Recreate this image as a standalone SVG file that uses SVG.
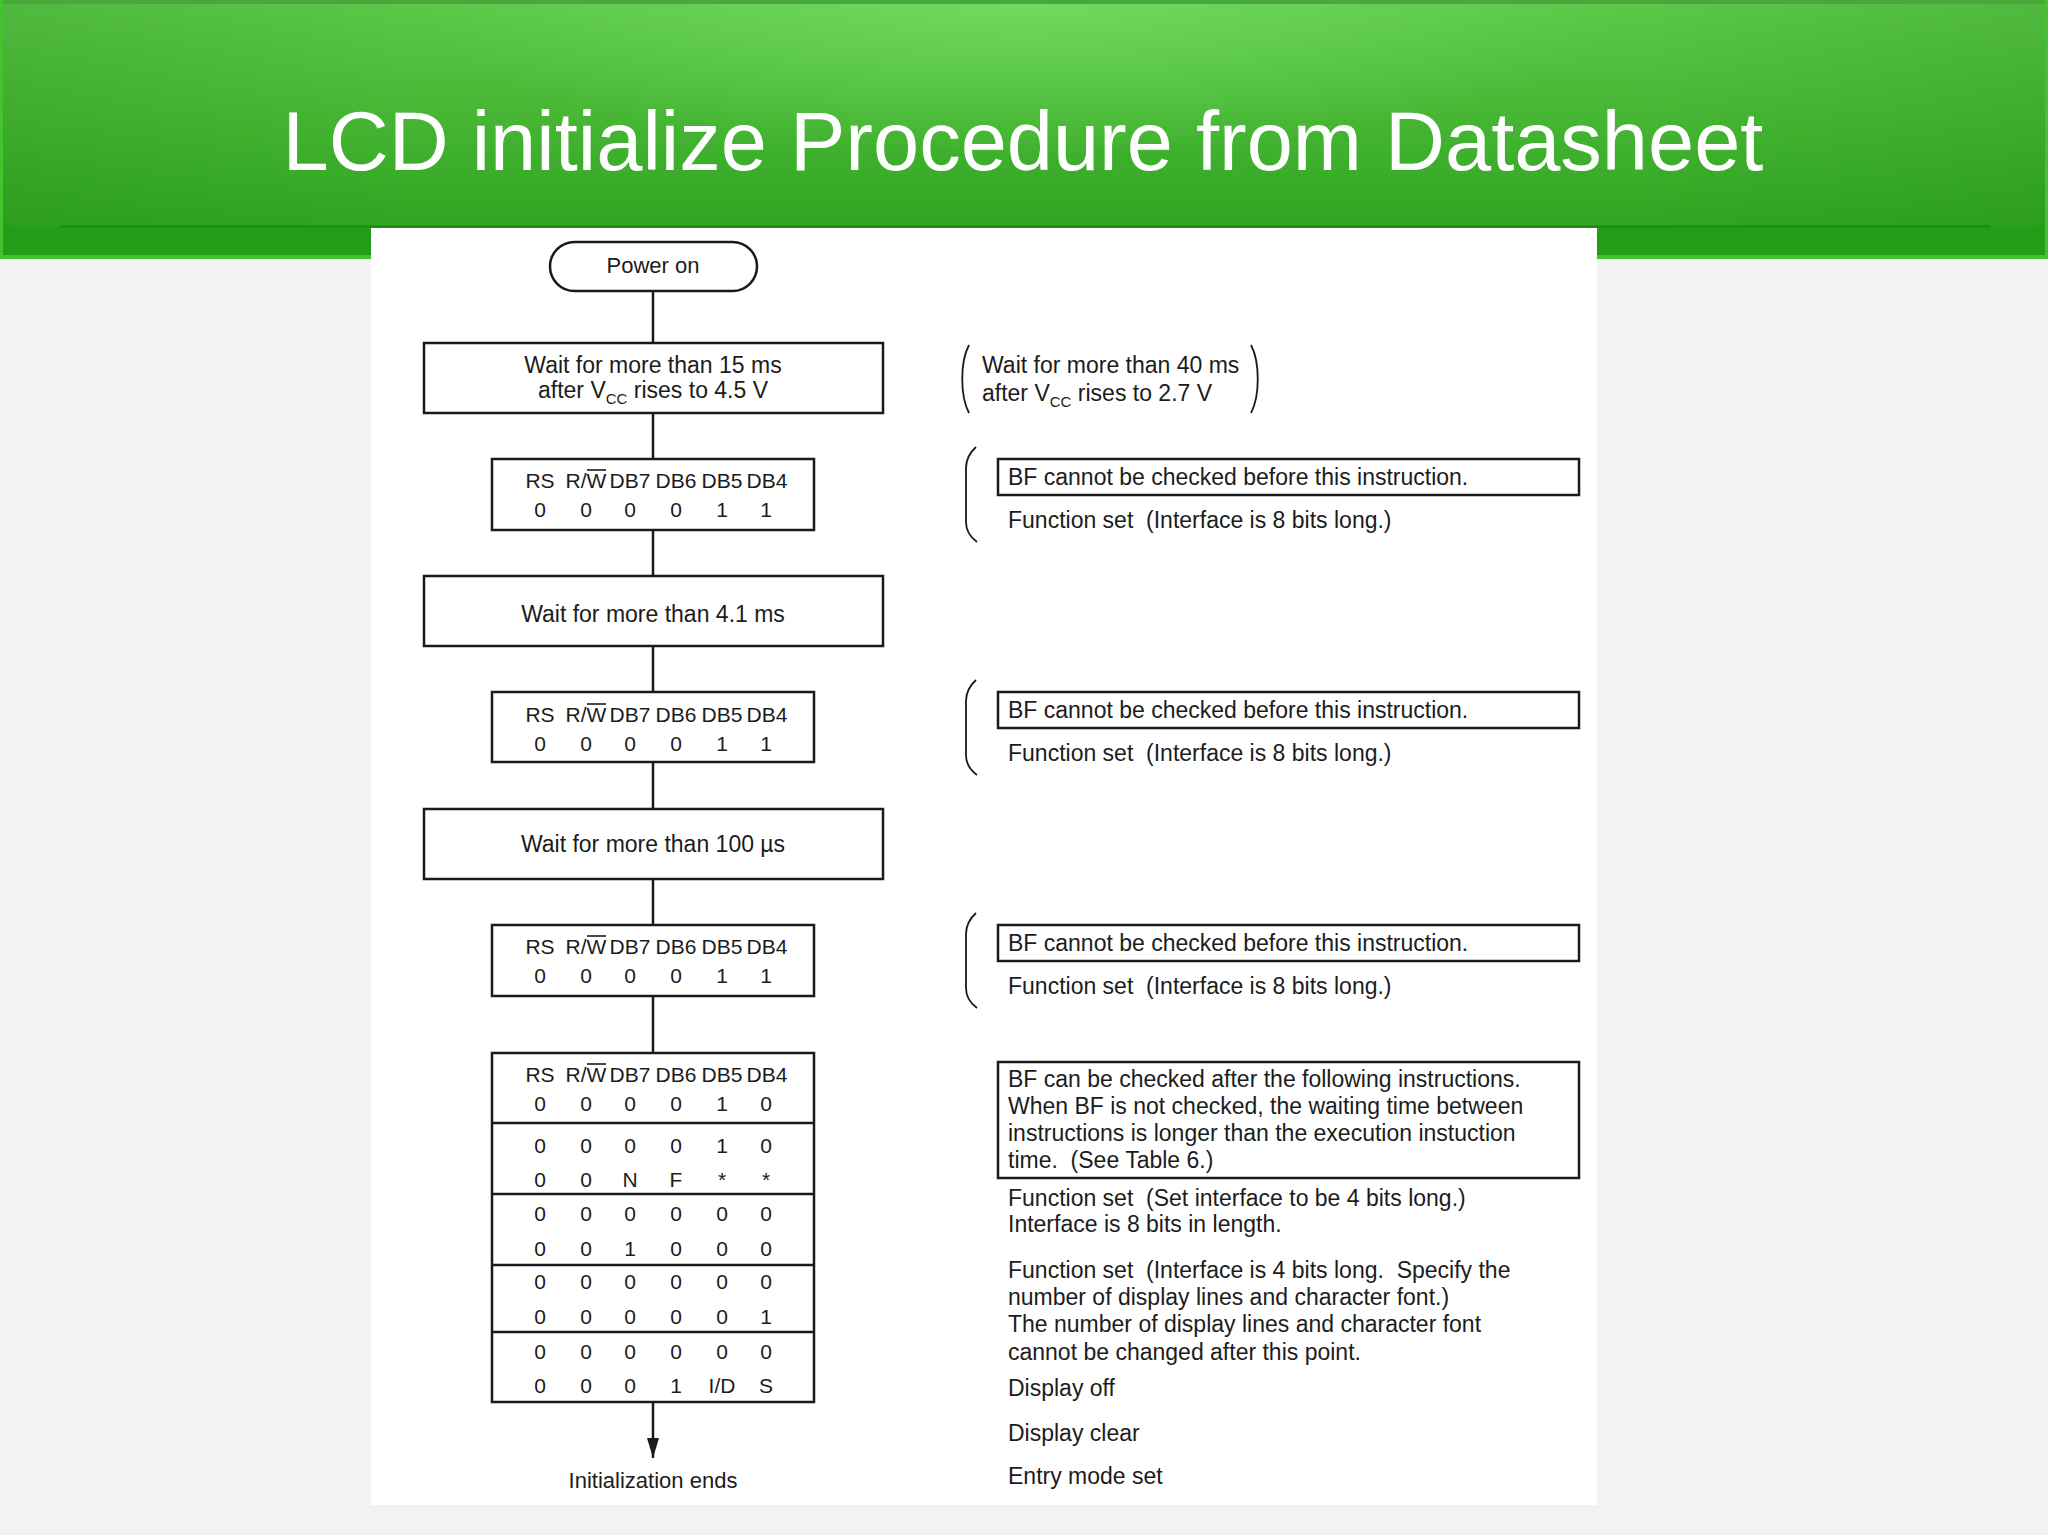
<svg xmlns="http://www.w3.org/2000/svg" width="2048" height="1535" viewBox="0 0 2048 1535">
<defs>
<linearGradient id="hdr" x1="0" y1="0" x2="0" y2="1">
<stop offset="0" stop-color="#5cc84a"/>
<stop offset="0.55" stop-color="#41b22f"/>
<stop offset="1" stop-color="#2a9f1d"/>
</linearGradient>
<radialGradient id="hdrGlow" cx="0.5" cy="0" r="0.6" gradientTransform="translate(0.5 0) scale(0.5 1) translate(-0.5 0)">
<stop offset="0" stop-color="#8ef07a" stop-opacity="0.45"/>
<stop offset="1" stop-color="#8ef07a" stop-opacity="0"/>
</radialGradient>
<linearGradient id="edgeDark" x1="0" y1="0" x2="1" y2="0">
<stop offset="0" stop-color="#1a7a10" stop-opacity="0.18"/>
<stop offset="0.2" stop-color="#1a7a10" stop-opacity="0"/>
<stop offset="0.8" stop-color="#1a7a10" stop-opacity="0"/>
<stop offset="1" stop-color="#1a7a10" stop-opacity="0.18"/>
</linearGradient>
<marker id="arrow" viewBox="0 0 20 12" refX="20" refY="6" markerWidth="20" markerHeight="12" markerUnits="userSpaceOnUse" orient="auto">
<path d="M0 0 L20 6 L0 12 Z" fill="#1a1a1a"/>
</marker>
<style>
.t{font-family:"Liberation Sans",Arial,Helvetica,sans-serif;font-size:23px;fill:#1c1c1c;white-space:pre}
.h{font-family:"Liberation Sans",Arial,Helvetica,sans-serif;font-size:21px;fill:#1c1c1c}
.v{font-family:"Liberation Sans",Arial,Helvetica,sans-serif;font-size:21px;fill:#1c1c1c}
.sub{font-size:15px}
.box{fill:#ffffff;stroke:#1a1a1a;stroke-width:2.5}
.nbox{fill:none;stroke:#1a1a1a;stroke-width:2.5}
.div{stroke:#1a1a1a;stroke-width:2.5}
.conn{stroke:#1a1a1a;stroke-width:2.5;fill:none}
.br{stroke:#1a1a1a;stroke-width:1.8;fill:none}
.ol{stroke:#1a1a1a;stroke-width:1.6}
</style>
</defs>

<!-- slide background -->
<rect x="0" y="0" width="2048" height="1535" fill="#f2f1f4"/>

<!-- header -->
<g id="header">
<rect x="0" y="0" width="2048" height="258" fill="url(#hdr)"/>
<rect x="0" y="0" width="2048" height="258" fill="url(#hdrGlow)"/>
<rect x="0" y="0" width="2048" height="258" fill="url(#edgeDark)"/>
<rect x="0" y="0" width="2048" height="4" fill="#4aa83a"/>
<rect x="0" y="226" width="2048" height="30" fill="#249d19"/>
<line x1="60" y1="226.5" x2="1990" y2="226.5" stroke="#1d8a13" stroke-width="2"/>
<rect x="0" y="255" width="2048" height="4" fill="#45c22f"/>
<rect x="0" y="0" width="3" height="259" fill="#45c22f"/>
<rect x="2045" y="0" width="3" height="259" fill="#45c22f"/>
<text x="1023" y="170" text-anchor="middle" font-family="'Liberation Sans',Arial,Helvetica,sans-serif" font-size="83" fill="#ffffff">LCD initialize Procedure from Datasheet</text>
</g>

<!-- white panel -->
<rect x="371" y="228" width="1226" height="1277" fill="#ffffff"/>

<!-- connectors -->
<g id="connectors">
<line class="conn" x1="653" y1="291" x2="653" y2="343"/>
<line class="conn" x1="653" y1="413" x2="653" y2="459"/>
<line class="conn" x1="653" y1="530" x2="653" y2="576"/>
<line class="conn" x1="653" y1="646" x2="653" y2="692"/>
<line class="conn" x1="653" y1="762" x2="653" y2="809"/>
<line class="conn" x1="653" y1="879" x2="653" y2="925"/>
<line class="conn" x1="653" y1="996" x2="653" y2="1053"/>
<line class="conn" x1="653" y1="1402" x2="653" y2="1458" marker-end="url(#arrow)"/>
</g>

<!-- Power on -->
<g id="power-on">
<rect class="box" x="550" y="242" width="207" height="49" rx="24.5" ry="24.5"/>
<text class="t" x="653" y="273" text-anchor="middle" style="font-size:22px">Power on</text>
</g>

<!-- Wait 15 ms -->
<g id="wait-15ms">
<rect class="box" x="424" y="343" width="459" height="70"/>
<text class="t" x="653" y="373" text-anchor="middle">Wait for more than 15 ms</text>
<text class="t" x="653" y="398" text-anchor="middle">after V<tspan class="sub" dy="6">CC</tspan><tspan dy="-6"> rises to 4.5 V</tspan></text>
</g>

<!-- Function set 1 -->
<g id="fs1">
<rect class="box" x="492" y="459" width="322" height="71"/>
<text class="h" y="488" text-anchor="middle"><tspan x="540">RS</tspan><tspan x="586">R/W</tspan><tspan x="630">DB7</tspan><tspan x="676">DB6</tspan><tspan x="722">DB5</tspan><tspan x="767">DB4</tspan></text>
<line class="ol" x1="587" y1="470" x2="606" y2="470"/>
<text class="v" y="517" text-anchor="middle"><tspan x="540">0</tspan><tspan x="586">0</tspan><tspan x="630">0</tspan><tspan x="676">0</tspan><tspan x="722">1</tspan><tspan x="766">1</tspan></text>
</g>

<!-- Wait 4.1 ms -->
<g id="wait-4ms">
<rect class="box" x="424" y="576" width="459" height="70"/>
<text class="t" x="653" y="622" text-anchor="middle">Wait for more than 4.1 ms</text>
</g>

<!-- Function set 2 -->
<g id="fs2">
<rect class="box" x="492" y="692" width="322" height="70"/>
<text class="h" y="722" text-anchor="middle"><tspan x="540">RS</tspan><tspan x="586">R/W</tspan><tspan x="630">DB7</tspan><tspan x="676">DB6</tspan><tspan x="722">DB5</tspan><tspan x="767">DB4</tspan></text>
<line class="ol" x1="587" y1="704" x2="606" y2="704"/>
<text class="v" y="751" text-anchor="middle"><tspan x="540">0</tspan><tspan x="586">0</tspan><tspan x="630">0</tspan><tspan x="676">0</tspan><tspan x="722">1</tspan><tspan x="766">1</tspan></text>
</g>

<!-- Wait 100 us -->
<g id="wait-100us">
<rect class="box" x="424" y="809" width="459" height="70"/>
<text class="t" x="653" y="852" text-anchor="middle">Wait for more than 100 µs</text>
</g>

<!-- Function set 3 -->
<g id="fs3">
<rect class="box" x="492" y="925" width="322" height="71"/>
<text class="h" y="954" text-anchor="middle"><tspan x="540">RS</tspan><tspan x="586">R/W</tspan><tspan x="630">DB7</tspan><tspan x="676">DB6</tspan><tspan x="722">DB5</tspan><tspan x="767">DB4</tspan></text>
<line class="ol" x1="587" y1="936" x2="606" y2="936"/>
<text class="v" y="983" text-anchor="middle"><tspan x="540">0</tspan><tspan x="586">0</tspan><tspan x="630">0</tspan><tspan x="676">0</tspan><tspan x="722">1</tspan><tspan x="766">1</tspan></text>
</g>

<!-- Final instruction table -->
<g id="table">
<rect class="box" x="492" y="1053" width="322" height="349"/>
<line class="div" x1="492" y1="1123" x2="814" y2="1123"/>
<line class="div" x1="492" y1="1194" x2="814" y2="1194"/>
<line class="div" x1="492" y1="1265" x2="814" y2="1265"/>
<line class="div" x1="492" y1="1332" x2="814" y2="1332"/>
<text class="h" y="1082" text-anchor="middle"><tspan x="540">RS</tspan><tspan x="586">R/W</tspan><tspan x="630">DB7</tspan><tspan x="676">DB6</tspan><tspan x="722">DB5</tspan><tspan x="767">DB4</tspan></text>
<line class="ol" x1="587" y1="1064" x2="606" y2="1064"/>
<text class="v" y="1111" text-anchor="middle"><tspan x="540">0</tspan><tspan x="586">0</tspan><tspan x="630">0</tspan><tspan x="676">0</tspan><tspan x="722">1</tspan><tspan x="766">0</tspan></text>
<text class="v" y="1153" text-anchor="middle"><tspan x="540">0</tspan><tspan x="586">0</tspan><tspan x="630">0</tspan><tspan x="676">0</tspan><tspan x="722">1</tspan><tspan x="766">0</tspan></text>
<text class="v" y="1187" text-anchor="middle"><tspan x="540">0</tspan><tspan x="586">0</tspan><tspan x="630">N</tspan><tspan x="676">F</tspan><tspan x="722">*</tspan><tspan x="766">*</tspan></text>
<text class="v" y="1221" text-anchor="middle"><tspan x="540">0</tspan><tspan x="586">0</tspan><tspan x="630">0</tspan><tspan x="676">0</tspan><tspan x="722">0</tspan><tspan x="766">0</tspan></text>
<text class="v" y="1256" text-anchor="middle"><tspan x="540">0</tspan><tspan x="586">0</tspan><tspan x="630">1</tspan><tspan x="676">0</tspan><tspan x="722">0</tspan><tspan x="766">0</tspan></text>
<text class="v" y="1289" text-anchor="middle"><tspan x="540">0</tspan><tspan x="586">0</tspan><tspan x="630">0</tspan><tspan x="676">0</tspan><tspan x="722">0</tspan><tspan x="766">0</tspan></text>
<text class="v" y="1324" text-anchor="middle"><tspan x="540">0</tspan><tspan x="586">0</tspan><tspan x="630">0</tspan><tspan x="676">0</tspan><tspan x="722">0</tspan><tspan x="766">1</tspan></text>
<text class="v" y="1359" text-anchor="middle"><tspan x="540">0</tspan><tspan x="586">0</tspan><tspan x="630">0</tspan><tspan x="676">0</tspan><tspan x="722">0</tspan><tspan x="766">0</tspan></text>
<text class="v" y="1393" text-anchor="middle"><tspan x="540">0</tspan><tspan x="586">0</tspan><tspan x="630">0</tspan><tspan x="676">1</tspan><tspan x="722">I/D</tspan><tspan x="766">S</tspan></text>
</g>

<!-- End -->
<g id="end">
<text class="t" x="653" y="1488" text-anchor="middle" style="font-size:22px">Initialization ends</text>
</g>

<!-- Right-side notes -->
<g id="note-40ms">
<path class="br" d="M969 345 C960 362 960 396 969 413"/>
<path class="br" d="M1251 345 C1260 362 1260 396 1251 413"/>
<text class="t" x="982" y="373">Wait for more than 40 ms</text>
<text class="t" x="982" y="401">after V<tspan class="sub" dy="6">CC</tspan><tspan dy="-6"> rises to 2.7 V</tspan></text>
</g>

<g id="note-fs1">
<path class="br" d="M976 447 Q966 456 966 468 L966 522 Q966 534 977 542"/>
<rect class="nbox" x="998" y="459" width="581" height="36"/>
<text class="t" x="1008" y="485">BF cannot be checked before this instruction.</text>
<text class="t" x="1008" y="528">Function set  (Interface is 8 bits long.)</text>
</g>

<g id="note-fs2">
<path class="br" d="M976 680 Q966 689 966 701 L966 755 Q966 767 977 775"/>
<rect class="nbox" x="998" y="692" width="581" height="36"/>
<text class="t" x="1008" y="718">BF cannot be checked before this instruction.</text>
<text class="t" x="1008" y="761">Function set  (Interface is 8 bits long.)</text>
</g>

<g id="note-fs3">
<path class="br" d="M976 913 Q966 922 966 934 L966 988 Q966 1000 977 1008"/>
<rect class="nbox" x="998" y="925" width="581" height="36"/>
<text class="t" x="1008" y="951">BF cannot be checked before this instruction.</text>
<text class="t" x="1008" y="994">Function set  (Interface is 8 bits long.)</text>
</g>

<g id="note-final">
<rect class="nbox" x="998" y="1062" width="581" height="116"/>
<text class="t" x="1008" y="1087">BF can be checked after the following instructions.</text>
<text class="t" x="1008" y="1114">When BF is not checked, the waiting time between</text>
<text class="t" x="1008" y="1141">instructions is longer than the execution instuction</text>
<text class="t" x="1008" y="1168">time.  (See Table 6.)</text>
<text class="t" x="1008" y="1206">Function set  (Set interface to be 4 bits long.)</text>
<text class="t" x="1008" y="1232">Interface is 8 bits in length.</text>
<text class="t" x="1008" y="1278">Function set  (Interface is 4 bits long.  Specify the</text>
<text class="t" x="1008" y="1305">number of display lines and character font.)</text>
<text class="t" x="1008" y="1332">The number of display lines and character font</text>
<text class="t" x="1008" y="1360">cannot be changed after this point.</text>
<text class="t" x="1008" y="1396">Display off</text>
<text class="t" x="1008" y="1441">Display clear</text>
<text class="t" x="1008" y="1484">Entry mode set</text>
</g>
</svg>
